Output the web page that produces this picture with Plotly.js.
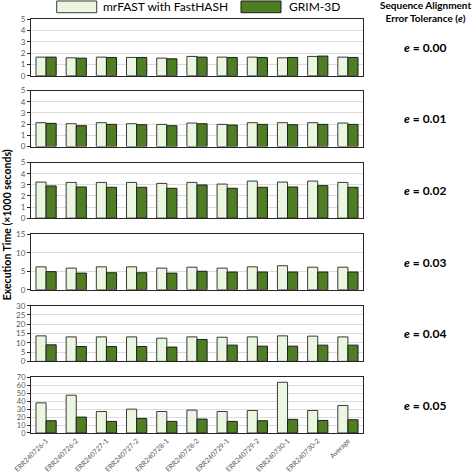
<!DOCTYPE html>
<html>
<head>
<meta charset="utf-8">
<script src="https://cdn.plot.ly/plotly-3.0.1.min.js"></script>
<style>html,body{margin:0;padding:0;background:#fff;}#chart{width:473px;height:475px;}</style>
</head>
<body>
<div id="chart"></div>
<script>
const categories = ["ERR240726-1","ERR240726-2","ERR240727-1","ERR240727-2","ERR240728-1","ERR240728-2","ERR240729-1","ERR240729-2","ERR240730-1","ERR240730-2","Average"];
const seriesNames = ["mrFAST with FastHASH","GRIM-3D"];
const tolerances = ["0.00","0.01","0.02","0.03","0.04","0.05"];
const yMax = [5,5,5,15,30,70];
const yStep = [1,1,1,5,5,10];

const mrfast_e000 = [1.64,1.58,1.64,1.61,1.55,1.70,1.64,1.64,1.58,1.70,1.64];
const grim_e000   = [1.64,1.55,1.61,1.61,1.49,1.64,1.61,1.61,1.61,1.73,1.61];
const mrfast_e001 = [2.13,2.04,2.13,2.04,1.98,2.10,1.98,2.13,2.13,2.13,2.10];
const grim_e001   = [2.07,1.86,1.98,1.95,1.86,2.04,1.92,1.98,1.95,1.98,1.98];
const mrfast_e002 = [3.25,3.22,3.22,3.22,3.13,3.22,3.07,3.34,3.25,3.34,3.22];
const grim_e002   = [2.90,2.81,2.78,2.78,2.69,2.99,2.69,2.78,2.81,2.93,2.78];
const mrfast_e003 = [6.2,5.85,6.2,6.2,5.85,6.1,5.85,6.2,6.5,6.1,6.1];
const grim_e003   = [4.9,4.5,4.6,4.6,4.5,5.0,4.8,4.8,4.8,4.8,4.8];
const mrfast_e004 = [13.75,13.2,13.2,13.2,12.5,13.2,13.0,13.2,13.75,13.6,13.2];
const grim_e004   = [8.9,8.0,8.0,8.0,7.7,11.8,8.75,8.2,8.2,8.75,8.75];
const mrfast_e005 = [37.9,47.5,27.0,30.0,27.0,28.75,27.0,28.3,63.75,28.3,34.6];
const grim_e005   = [15.4,20.0,14.6,18.3,14.6,17.5,14.6,15.4,17.1,15.8,16.7];

const mrfastSets = [mrfast_e000,mrfast_e001,mrfast_e002,mrfast_e003,mrfast_e004,mrfast_e005];
const grimSets = [grim_e000,grim_e001,grim_e002,grim_e003,grim_e004,grim_e005];

const lightFill = "#ebf6e1", darkFill = "#4e7d24";
const domains = [[0.863,1.0],[0.692,0.827],[0.519,0.653],[0.346,0.480],[0.173,0.3075],[0,0.1345]];
const FONT = "Lato, 'Open Sans', sans-serif";

const traces = [];
const layout = {
  width: 473, height: 475,
  margin: {l:31, r:110, t:19, b:42},
  paper_bgcolor: "#fff", plot_bgcolor: "#fff",
  barmode: "group", bargap: 0.33, bargroupgap: 0,
  showlegend: false,
  font: {family: FONT, size: 8, color: "#595959"},
  annotations: [], shapes: []
};

for (let i = 0; i < 6; i++) {
  const n = i === 0 ? "" : String(i + 1);
  traces.push({type:"bar", name: seriesNames[0], x: categories, y: mrfastSets[i], xaxis: "x"+n, yaxis: "y"+n,
    marker: {color: lightFill, line: {color: "#3a3a3a", width: 1}}});
  traces.push({type:"bar", name: seriesNames[1], x: categories, y: grimSets[i], xaxis: "x"+n, yaxis: "y"+n,
    marker: {color: darkFill, line: {color: "#1e1e1e", width: 1}}});
  const bottom = i === 5;
  layout["xaxis"+n] = {
    anchor: "y"+n, domain: [0,1], type: "category",
    showticklabels: bottom, tickangle: -45, tickfont: {size: 7, color: "#595959", family: FONT},
    ticklabelstandoff: 0,
    ticks: "", showline: true, linecolor: "#262626", linewidth: 1, mirror: true,
    showgrid: false, fixedrange: true
  };
  if (i > 0) layout["xaxis"+n].matches = "x";
  layout["yaxis"+n] = {
    anchor: "x"+n, domain: domains[i], range: [0, yMax[i]], dtick: yStep[i], tick0: 0,
    showline: true, linecolor: "#262626", linewidth: 1, mirror: true,
    ticks: "outside", ticklen: 3, tickcolor: "#262626",
    showgrid: true, gridcolor: "#dcdcdc", gridwidth: 1,
    tickfont: {size: i === 5 ? 7.5 : 8, color: "#595959", family: FONT}, zeroline: false, fixedrange: true
  };
  const mid = (domains[i][0] + domains[i][1]) / 2;
  layout.annotations.push({xref:"paper", yref:"paper", x: 1.187, y: mid, xanchor:"center", yanchor:"middle",
    text: "<b><i>e</i> = " + tolerances[i] + "</b>", showarrow: false,
    font: {family: FONT, size: 12, color: "#000"}});
}

layout.annotations.push({xref:"paper", yref:"paper", x: 1.187, y: 1.018, xanchor:"center", yanchor:"middle",
  text: "<b>Sequence Alignment<br>Error Tolerance (<i>e</i>)</b>", showarrow: false,
  font: {family: FONT, size: 10, color: "#000"}});
layout.annotations.push({xref:"paper", yref:"paper", x: -0.072, y: 0.502, xanchor:"center", yanchor:"middle",
  textangle: -90, text: "<b>Execution Time (×1000 seconds)</b>", showarrow: false,
  font: {family: FONT, size: 10.5, color: "#000"}});

// legend
layout.shapes.push({type:"rect", xref:"paper", yref:"paper", x0:0.0774, x1:0.198, y0:1.0152, y1:1.0435,
  fillcolor: lightFill, line: {color:"#3a3a3a", width:1}});
layout.shapes.push({type:"rect", xref:"paper", yref:"paper", x0:0.6325, x1:0.753, y0:1.0152, y1:1.0435,
  fillcolor: darkFill, line: {color:"#1e1e1e", width:1}});
layout.annotations.push({xref:"paper", yref:"paper", x:0.211, y:1.029, xanchor:"left", yanchor:"middle",
  text: seriesNames[0], showarrow:false, font:{family: FONT, size: 12, color:"#000"}});
layout.annotations.push({xref:"paper", yref:"paper", x:0.771, y:1.029, xanchor:"left", yanchor:"middle",
  text: seriesNames[1], showarrow:false, font:{family: FONT, size: 12, color:"#000"}});

Plotly.newPlot("chart", traces, layout, {displayModeBar:false, staticPlot:true});
</script>
</body>
</html>
